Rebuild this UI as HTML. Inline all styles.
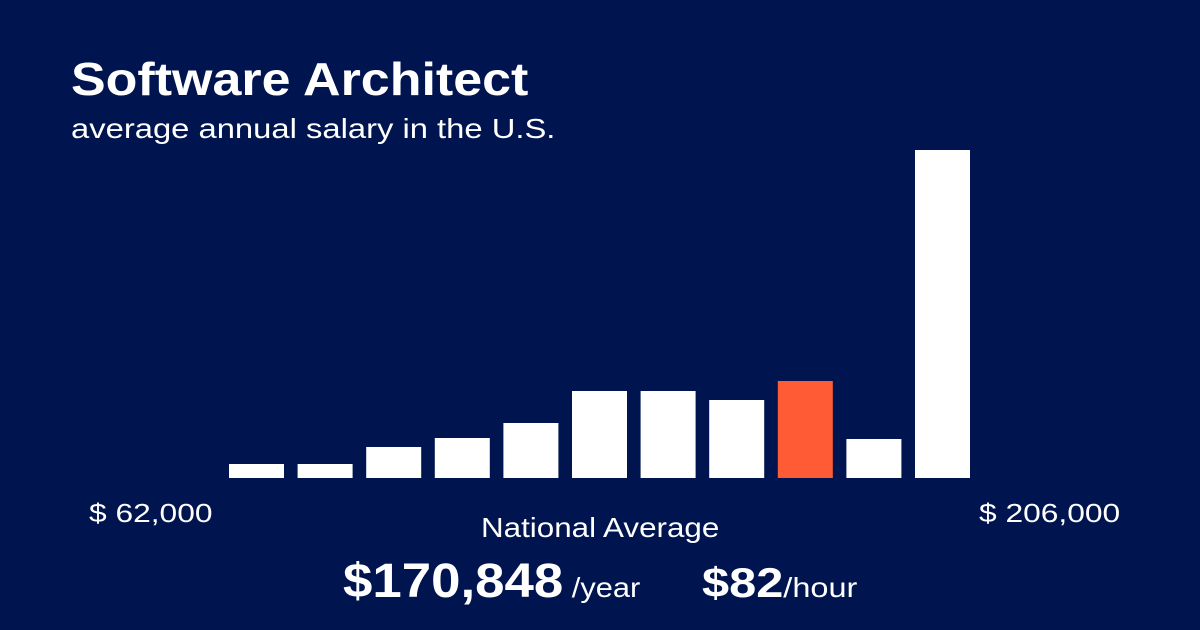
<!DOCTYPE html>
<html><head><meta charset="utf-8"><style>
html,body{margin:0;padding:0}
body{width:1200px;height:630px;background:#001550;position:relative;overflow:hidden;font-family:"Liberation Sans",sans-serif;color:#fff}
.t{position:absolute;white-space:nowrap;transform-origin:0 0}
</style></head><body>
<div class="t" style="left:71px;top:52px;font-size:46px;font-weight:bold;transform:scaleX(1.13)">Software Architect</div>
<div class="t" style="left:71px;top:113px;font-size:28px;transform:scaleX(1.17)">average annual salary in the U.S.</div>
<svg id="chart" width="1200" height="630" style="position:absolute;left:0;top:0"></svg>
<div class="t" style="left:89px;top:498px;font-size:26px;transform:scaleX(1.22)">$ 62,000</div>
<div class="t" style="left:979px;top:498px;font-size:26px;transform:scaleX(1.22)">$ 206,000</div>
<div class="t" style="left:481px;top:512px;font-size:28px;transform:scaleX(1.12)">National Average</div>
<div class="t" style="left:343px;top:554px;font-size:28px;transform:scaleX(1.1)"><span style="font-size:48px;font-weight:bold">$170,848</span> /year</div>
<div class="t" style="left:702px;top:559px;font-size:28px;transform:scaleX(1.16)"><span style="font-size:42px;font-weight:bold">$82</span>/hour</div>
<script>
const categories = ["b1","b2","b3","b4","b5","b6","b7","b8","b9","b10","b11"];
const values = [14,14,31,40,55,87,87,78,97,39,328];
const highlightIndex = 8;
const svg = document.getElementById('chart');
const baseY = 478, x0 = 229, step = 68.6, bw = 55, scale = 1;
function xPos(i){return x0 + i*step;}
function yPos(v){return baseY - v*scale;}
categories.forEach((c,i)=>{
  const r = document.createElementNS('http://www.w3.org/2000/svg','rect');
  r.setAttribute('x', xPos(i));
  r.setAttribute('y', yPos(values[i]));
  r.setAttribute('width', bw);
  r.setAttribute('height', baseY - yPos(values[i]));
  r.setAttribute('fill', i===highlightIndex ? '#ff5c35' : '#ffffff');
  
  
  svg.appendChild(r);
});
</script>
</body></html>
